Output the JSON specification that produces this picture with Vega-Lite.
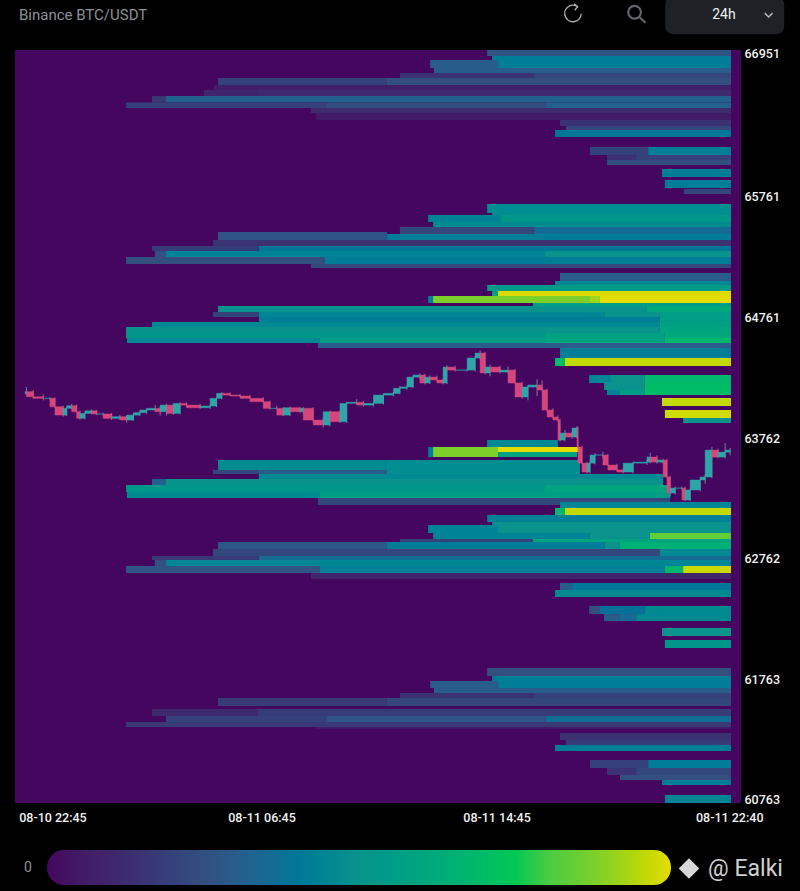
{"$schema":"https://vega.github.io/schema/vega-lite/v6.json","width":726,"height":753,"autosize":"none","padding":{"left":15,"top":50,"right":59,"bottom":88},"background":"#000000","config":{"view":{"stroke":null},"font":"Roboto"},"datasets":{"heat":[
{"t0":-0.39,"t1":24.32,"p0":60738,"p1":66979,"v":0},
{"t0":15.68,"t1":23.98,"p0":66929,"p1":66979,"v":0.27},
{"t0":15.85,"t1":23.98,"p0":66879,"p1":66929,"v":0.42},
{"t0":13.74,"t1":16.05,"p0":66829,"p1":66896,"v":0.3},
{"t0":16.05,"t1":23.98,"p0":66829,"p1":66879,"v":0.42},
{"t0":13.87,"t1":23.98,"p0":66788,"p1":66829,"v":0.3},
{"t0":12.71,"t1":17.28,"p0":66747,"p1":66788,"v":0.15},
{"t0":17.28,"t1":23.98,"p0":66747,"p1":66788,"v":0.22},
{"t0":6.52,"t1":12.27,"p0":66689,"p1":66747,"v":0.2},
{"t0":12.27,"t1":23.98,"p0":66689,"p1":66747,"v":0.25},
{"t0":6.38,"t1":23.98,"p0":66647,"p1":66689,"v":0.07},
{"t0":6.04,"t1":7.88,"p0":66597,"p1":66647,"v":0.1},
{"t0":7.88,"t1":23.98,"p0":66597,"p1":66647,"v":0.12},
{"t0":4.27,"t1":4.75,"p0":66543,"p1":66597,"v":0.17},
{"t0":4.75,"t1":23.98,"p0":66543,"p1":66597,"v":0.32},
{"t0":3.39,"t1":10.23,"p0":66498,"p1":66543,"v":0.2},
{"t0":10.23,"t1":17.68,"p0":66498,"p1":66543,"v":0.25},
{"t0":17.68,"t1":23.98,"p0":66498,"p1":66543,"v":0.32},
{"t0":9.68,"t1":23.98,"p0":66457,"p1":66498,"v":0.13},
{"t0":9.85,"t1":23.98,"p0":66399,"p1":66457,"v":0.06},
{"t0":18.16,"t1":23.98,"p0":66349,"p1":66399,"v":0.15},
{"t0":18.36,"t1":23.98,"p0":66316,"p1":66349,"v":0.22},
{"t0":17.99,"t1":23.98,"p0":66258,"p1":66316,"v":0.4},
{"t0":19.18,"t1":21.16,"p0":66108,"p1":66175,"v":0.2},
{"t0":21.16,"t1":23.98,"p0":66108,"p1":66175,"v":0.42},
{"t0":19.76,"t1":20.75,"p0":66067,"p1":66108,"v":0.15},
{"t0":20.75,"t1":23.98,"p0":66067,"p1":66108,"v":0.2},
{"t0":19.76,"t1":23.98,"p0":66026,"p1":66067,"v":0.25},
{"t0":21.63,"t1":23.98,"p0":65926,"p1":65992,"v":0.42},
{"t0":21.73,"t1":23.98,"p0":65835,"p1":65901,"v":0.42},
{"t0":22.38,"t1":23.98,"p0":65785,"p1":65827,"v":0.22},
{"t0":15.68,"t1":23.98,"p0":65628,"p1":65702,"v":0.48},
{"t0":15.85,"t1":23.98,"p0":65611,"p1":65628,"v":0.48},
{"t0":13.67,"t1":16.12,"p0":65553,"p1":65611,"v":0.44},
{"t0":16.12,"t1":23.98,"p0":65553,"p1":65611,"v":0.52},
{"t0":13.84,"t1":23.98,"p0":65512,"p1":65553,"v":0.47},
{"t0":12.71,"t1":17.28,"p0":65454,"p1":65512,"v":0.22},
{"t0":17.28,"t1":23.98,"p0":65454,"p1":65512,"v":0.36},
{"t0":6.52,"t1":12.27,"p0":65404,"p1":65470,"v":0.27},
{"t0":12.27,"t1":23.98,"p0":65404,"p1":65454,"v":0.42},
{"t0":6.35,"t1":23.98,"p0":65354,"p1":65404,"v":0.15},
{"t0":4.27,"t1":7.91,"p0":65313,"p1":65354,"v":0.18},
{"t0":7.91,"t1":23.98,"p0":65313,"p1":65354,"v":0.4},
{"t0":4.37,"t1":4.75,"p0":65263,"p1":65313,"v":0.25},
{"t0":4.75,"t1":17.65,"p0":65263,"p1":65313,"v":0.44},
{"t0":17.65,"t1":23.98,"p0":65263,"p1":65313,"v":0.5},
{"t0":3.39,"t1":10.16,"p0":65205,"p1":65263,"v":0.25},
{"t0":10.16,"t1":23.98,"p0":65205,"p1":65263,"v":0.42},
{"t0":9.68,"t1":23.98,"p0":65172,"p1":65205,"v":0.22},
{"t0":18.16,"t1":23.98,"p0":65064,"p1":65131,"v":0.3},
{"t0":17.99,"t1":23.98,"p0":65031,"p1":65064,"v":0.45},
{"t0":15.68,"t1":23.98,"p0":64981,"p1":65031,"v":0.54},
{"t0":15.85,"t1":16.05,"p0":64940,"p1":64981,"v":0.6},
{"t0":16.05,"t1":23.98,"p0":64940,"p1":64981,"v":0.99},
{"t0":13.67,"t1":13.84,"p0":64882,"p1":64940,"v":0.42},
{"t0":13.84,"t1":19.18,"p0":64882,"p1":64940,"v":0.88},
{"t0":19.18,"t1":19.52,"p0":64882,"p1":64940,"v":0.92},
{"t0":19.52,"t1":23.98,"p0":64882,"p1":64940,"v":1},
{"t0":17.24,"t1":23.98,"p0":64857,"p1":64882,"v":0.55},
{"t0":6.52,"t1":21.12,"p0":64807,"p1":64857,"v":0.5},
{"t0":21.12,"t1":23.98,"p0":64807,"p1":64857,"v":0.62},
{"t0":6.35,"t1":7.91,"p0":64766,"p1":64807,"v":0.2},
{"t0":7.91,"t1":19.69,"p0":64766,"p1":64807,"v":0.45},
{"t0":19.69,"t1":21.56,"p0":64766,"p1":64807,"v":0.5},
{"t0":21.56,"t1":23.98,"p0":64766,"p1":64807,"v":0.56},
{"t0":7.91,"t1":21.56,"p0":64724,"p1":64766,"v":0.42},
{"t0":21.56,"t1":23.98,"p0":64724,"p1":64766,"v":0.56},
{"t0":4.27,"t1":21.56,"p0":64683,"p1":64724,"v":0.46},
{"t0":21.56,"t1":23.98,"p0":64683,"p1":64724,"v":0.58},
{"t0":3.39,"t1":21.56,"p0":64633,"p1":64683,"v":0.5},
{"t0":21.56,"t1":23.98,"p0":64633,"p1":64683,"v":0.6},
{"t0":3.39,"t1":17.65,"p0":64592,"p1":64633,"v":0.52},
{"t0":17.65,"t1":21.73,"p0":64592,"p1":64633,"v":0.58},
{"t0":21.73,"t1":23.98,"p0":64592,"p1":64633,"v":0.62},
{"t0":3.42,"t1":9.99,"p0":64550,"p1":64592,"v":0.46},
{"t0":9.99,"t1":17.65,"p0":64550,"p1":64592,"v":0.56},
{"t0":17.65,"t1":21.73,"p0":64550,"p1":64592,"v":0.6},
{"t0":21.73,"t1":23.98,"p0":64550,"p1":64592,"v":0.68},
{"t0":9.92,"t1":23.98,"p0":64509,"p1":64550,"v":0.3},
{"t0":18.16,"t1":23.98,"p0":64426,"p1":64509,"v":0.42},
{"t0":17.99,"t1":18.33,"p0":64360,"p1":64426,"v":0.7},
{"t0":18.33,"t1":23.98,"p0":64360,"p1":64426,"v":0.96},
{"t0":19.15,"t1":19.86,"p0":64219,"p1":64285,"v":0.45},
{"t0":19.86,"t1":21.05,"p0":64219,"p1":64285,"v":0.5},
{"t0":21.05,"t1":23.98,"p0":64219,"p1":64285,"v":0.68},
{"t0":19.66,"t1":21.05,"p0":64161,"p1":64219,"v":0.5},
{"t0":21.05,"t1":23.98,"p0":64161,"p1":64219,"v":0.7},
{"t0":19.76,"t1":20.2,"p0":64119,"p1":64161,"v":0.45},
{"t0":20.2,"t1":21.05,"p0":64119,"p1":64161,"v":0.55},
{"t0":21.05,"t1":23.98,"p0":64119,"p1":64161,"v":0.7},
{"t0":21.63,"t1":23.98,"p0":64028,"p1":64094,"v":0.96},
{"t0":21.73,"t1":23.98,"p0":63929,"p1":63995,"v":0.98},
{"t0":22.35,"t1":23.98,"p0":63887,"p1":63929,"v":0.5},
{"t0":15.68,"t1":18.09,"p0":63688,"p1":63746,"v":0.46},
{"t0":13.67,"t1":13.84,"p0":63605,"p1":63688,"v":0.42},
{"t0":13.84,"t1":16.05,"p0":63605,"p1":63688,"v":0.88},
{"t0":16.05,"t1":18.84,"p0":63647,"p1":63688,"v":1},
{"t0":16.05,"t1":18.74,"p0":63605,"p1":63647,"v":0.6},
{"t0":6.52,"t1":12.27,"p0":63498,"p1":63580,"v":0.47},
{"t0":12.27,"t1":18.84,"p0":63465,"p1":63580,"v":0.48},
{"t0":6.35,"t1":7.91,"p0":63465,"p1":63498,"v":0.22},
{"t0":7.91,"t1":12.27,"p0":63465,"p1":63498,"v":0.3},
{"t0":7.91,"t1":21.67,"p0":63423,"p1":63465,"v":0.46},
{"t0":4.27,"t1":4.75,"p0":63373,"p1":63423,"v":0.32},
{"t0":4.75,"t1":21.67,"p0":63373,"p1":63423,"v":0.5},
{"t0":3.39,"t1":17.65,"p0":63315,"p1":63373,"v":0.52},
{"t0":17.65,"t1":21.84,"p0":63315,"p1":63373,"v":0.6},
{"t0":3.42,"t1":9.99,"p0":63266,"p1":63315,"v":0.47},
{"t0":9.99,"t1":21.91,"p0":63266,"p1":63315,"v":0.56},
{"t0":9.92,"t1":21.91,"p0":63208,"p1":63266,"v":0.22},
{"t0":18.16,"t1":23.98,"p0":63183,"p1":63233,"v":0.45},
{"t0":17.99,"t1":18.33,"p0":63125,"p1":63183,"v":0.68},
{"t0":18.33,"t1":23.98,"p0":63125,"p1":63183,"v":0.96},
{"t0":15.68,"t1":23.98,"p0":63067,"p1":63125,"v":0.43},
{"t0":15.85,"t1":23.98,"p0":63042,"p1":63067,"v":0.5},
{"t0":13.67,"t1":16.05,"p0":62976,"p1":63042,"v":0.44},
{"t0":16.05,"t1":23.98,"p0":62976,"p1":63042,"v":0.5},
{"t0":13.84,"t1":19.18,"p0":62926,"p1":62976,"v":0.44},
{"t0":19.18,"t1":21.22,"p0":62926,"p1":62976,"v":0.5},
{"t0":21.22,"t1":23.98,"p0":62926,"p1":62976,"v":0.84},
{"t0":12.71,"t1":17.24,"p0":62901,"p1":62926,"v":0.2},
{"t0":17.24,"t1":23.98,"p0":62901,"p1":62926,"v":0.6},
{"t0":6.52,"t1":12.27,"p0":62843,"p1":62901,"v":0.28},
{"t0":12.27,"t1":19.69,"p0":62843,"p1":62901,"v":0.42},
{"t0":19.69,"t1":20.2,"p0":62843,"p1":62901,"v":0.5},
{"t0":20.2,"t1":23.98,"p0":62843,"p1":62901,"v":0.65},
{"t0":6.35,"t1":21.56,"p0":62785,"p1":62843,"v":0.22},
{"t0":21.56,"t1":23.98,"p0":62785,"p1":62843,"v":0.46},
{"t0":4.27,"t1":7.91,"p0":62752,"p1":62785,"v":0.17},
{"t0":7.91,"t1":23.98,"p0":62752,"p1":62785,"v":0.36},
{"t0":4.37,"t1":4.75,"p0":62702,"p1":62752,"v":0.25},
{"t0":4.75,"t1":23.98,"p0":62702,"p1":62752,"v":0.45},
{"t0":3.39,"t1":9.99,"p0":62644,"p1":62702,"v":0.27},
{"t0":9.99,"t1":21.73,"p0":62644,"p1":62702,"v":0.43},
{"t0":21.73,"t1":22.35,"p0":62644,"p1":62702,"v":0.68},
{"t0":22.35,"t1":23.98,"p0":62644,"p1":62702,"v":0.97},
{"t0":9.68,"t1":23.98,"p0":62594,"p1":62644,"v":0.1},
{"t0":18.16,"t1":18.57,"p0":62503,"p1":62561,"v":0.3},
{"t0":18.57,"t1":23.98,"p0":62503,"p1":62561,"v":0.4},
{"t0":17.99,"t1":23.98,"p0":62445,"p1":62503,"v":0.46},
{"t0":19.15,"t1":19.52,"p0":62304,"p1":62371,"v":0.25},
{"t0":19.52,"t1":21.05,"p0":62304,"p1":62371,"v":0.38},
{"t0":21.05,"t1":23.98,"p0":62304,"p1":62371,"v":0.47},
{"t0":19.66,"t1":20.2,"p0":62246,"p1":62304,"v":0.3},
{"t0":20.2,"t1":20.75,"p0":62246,"p1":62304,"v":0.35},
{"t0":20.75,"t1":23.98,"p0":62246,"p1":62304,"v":0.46},
{"t0":21.63,"t1":23.98,"p0":62122,"p1":62188,"v":0.5},
{"t0":21.73,"t1":23.98,"p0":62022,"p1":62089,"v":0.52},
{"t0":15.68,"t1":23.98,"p0":61790,"p1":61857,"v":0.25},
{"t0":15.85,"t1":23.98,"p0":61749,"p1":61790,"v":0.42},
{"t0":13.74,"t1":16.05,"p0":61691,"p1":61749,"v":0.3},
{"t0":16.05,"t1":23.98,"p0":61691,"p1":61749,"v":0.42},
{"t0":13.87,"t1":23.98,"p0":61650,"p1":61691,"v":0.3},
{"t0":12.71,"t1":17.28,"p0":61608,"p1":61650,"v":0.15},
{"t0":17.28,"t1":23.98,"p0":61608,"p1":61650,"v":0.2},
{"t0":6.52,"t1":12.27,"p0":61542,"p1":61608,"v":0.18},
{"t0":12.27,"t1":23.98,"p0":61542,"p1":61608,"v":0.22},
{"t0":4.27,"t1":7.88,"p0":61459,"p1":61517,"v":0.12},
{"t0":7.88,"t1":23.98,"p0":61459,"p1":61517,"v":0.18},
{"t0":4.75,"t1":10.23,"p0":61409,"p1":61459,"v":0.2},
{"t0":10.23,"t1":17.68,"p0":61409,"p1":61459,"v":0.27},
{"t0":17.68,"t1":23.98,"p0":61409,"p1":61459,"v":0.37},
{"t0":3.39,"t1":23.98,"p0":61368,"p1":61409,"v":0.17},
{"t0":9.85,"t1":23.98,"p0":61351,"p1":61368,"v":0.05},
{"t0":18.16,"t1":23.98,"p0":61260,"p1":61318,"v":0.15},
{"t0":18.36,"t1":23.98,"p0":61219,"p1":61260,"v":0.18},
{"t0":17.99,"t1":23.98,"p0":61169,"p1":61219,"v":0.42},
{"t0":19.18,"t1":21.16,"p0":61028,"p1":61094,"v":0.2},
{"t0":21.16,"t1":23.98,"p0":61028,"p1":61094,"v":0.42},
{"t0":19.76,"t1":20.75,"p0":60970,"p1":61028,"v":0.15},
{"t0":20.75,"t1":23.98,"p0":60970,"p1":61028,"v":0.22},
{"t0":20.2,"t1":23.98,"p0":60929,"p1":60970,"v":0.25},
{"t0":21.63,"t1":23.98,"p0":60887,"p1":60929,"v":0.42},
{"t0":21.73,"t1":23.98,"p0":60738,"p1":60804,"v":0.44}
],"candles":[
{"t0":-0.05,"t1":0,"o":64130,"c":64147,"h":64185,"l":64120},
{"t0":0,"t1":0.23,"o":64147,"c":64105,"h":64160,"l":64090},
{"t0":0.23,"t1":0.57,"o":64105,"c":64092,"h":64125,"l":64075},
{"t0":0.57,"t1":0.8,"o":64092,"c":64092,"h":64105,"l":64080},
{"t0":0.8,"t1":0.97,"o":64092,"c":64022,"h":64100,"l":64012},
{"t0":0.97,"t1":1.25,"o":64022,"c":63953,"h":64030,"l":63940},
{"t0":1.25,"t1":1.37,"o":63953,"c":64009,"h":64020,"l":63945},
{"t0":1.37,"t1":1.54,"o":64009,"c":64031,"h":64045,"l":64000},
{"t0":1.54,"t1":1.71,"o":64031,"c":63981,"h":64040,"l":63970},
{"t0":1.71,"t1":1.82,"o":63981,"c":63926,"h":63990,"l":63915},
{"t0":1.82,"t1":1.99,"o":63926,"c":63967,"h":63975,"l":63918},
{"t0":1.99,"t1":2.22,"o":63967,"c":63989,"h":64000,"l":63960},
{"t0":2.22,"t1":2.39,"o":63989,"c":63962,"h":63995,"l":63955},
{"t0":2.39,"t1":2.61,"o":63962,"c":63962,"h":63972,"l":63950},
{"t0":2.61,"t1":2.9,"o":63962,"c":63926,"h":63970,"l":63912},
{"t0":2.9,"t1":3.18,"o":63926,"c":63940,"h":63955,"l":63915},
{"t0":3.18,"t1":3.41,"o":63940,"c":63912,"h":63950,"l":63890},
{"t0":3.41,"t1":3.64,"o":63912,"c":63953,"h":63965,"l":63905},
{"t0":3.64,"t1":3.86,"o":63953,"c":63973,"h":63985,"l":63945},
{"t0":3.86,"t1":4.09,"o":63973,"c":63995,"h":64005,"l":63965},
{"t0":4.09,"t1":4.38,"o":63995,"c":64009,"h":64035,"l":63985},
{"t0":4.38,"t1":4.55,"o":64009,"c":63981,"h":64025,"l":63950},
{"t0":4.55,"t1":4.77,"o":63981,"c":64036,"h":64045,"l":63950},
{"t0":4.77,"t1":5,"o":64036,"c":63967,"h":64045,"l":63955},
{"t0":5,"t1":5.23,"o":63967,"c":64050,"h":64060,"l":63960},
{"t0":5.23,"t1":5.45,"o":64050,"c":64036,"h":64060,"l":64025},
{"t0":5.45,"t1":5.91,"o":64036,"c":64014,"h":64045,"l":64005},
{"t0":5.91,"t1":6.25,"o":64014,"c":64028,"h":64038,"l":64005},
{"t0":6.25,"t1":6.47,"o":64028,"c":64092,"h":64100,"l":64020},
{"t0":6.47,"t1":6.65,"o":64092,"c":64133,"h":64145,"l":64085},
{"t0":6.65,"t1":6.93,"o":64133,"c":64119,"h":64142,"l":64112},
{"t0":6.93,"t1":7.27,"o":64119,"c":64111,"h":64128,"l":64102},
{"t0":7.27,"t1":7.61,"o":64111,"c":64092,"h":64120,"l":64085},
{"t0":7.61,"t1":8.06,"o":64092,"c":64064,"h":64100,"l":64055},
{"t0":8.06,"t1":8.29,"o":64064,"c":64009,"h":64072,"l":64000},
{"t0":8.29,"t1":8.52,"o":64009,"c":64009,"h":64030,"l":64000},
{"t0":8.52,"t1":8.74,"o":64009,"c":63953,"h":64018,"l":63945},
{"t0":8.74,"t1":8.97,"o":63953,"c":64014,"h":64025,"l":63945},
{"t0":8.97,"t1":9.31,"o":64014,"c":63981,"h":64022,"l":63972},
{"t0":9.31,"t1":9.42,"o":63981,"c":64009,"h":64020,"l":63972},
{"t0":9.42,"t1":9.76,"o":64009,"c":63912,"h":64018,"l":63900},
{"t0":9.76,"t1":10.1,"o":63912,"c":63871,"h":63935,"l":63850},
{"t0":10.1,"t1":10.33,"o":63871,"c":63981,"h":63990,"l":63860},
{"t0":10.33,"t1":10.67,"o":63981,"c":63898,"h":63990,"l":63888},
{"t0":10.67,"t1":10.9,"o":63898,"c":64050,"h":64062,"l":63888},
{"t0":10.9,"t1":11.24,"o":64050,"c":64059,"h":64085,"l":64040},
{"t0":11.24,"t1":11.47,"o":64059,"c":64036,"h":64070,"l":64025},
{"t0":11.47,"t1":11.81,"o":64036,"c":64050,"h":64062,"l":64025},
{"t0":11.81,"t1":12.15,"o":64050,"c":64119,"h":64130,"l":64040},
{"t0":12.15,"t1":12.49,"o":64119,"c":64133,"h":64145,"l":64110},
{"t0":12.49,"t1":12.71,"o":64133,"c":64175,"h":64195,"l":64125},
{"t0":12.71,"t1":12.95,"o":64175,"c":64186,"h":64200,"l":64165},
{"t0":12.95,"t1":13.16,"o":64186,"c":64268,"h":64280,"l":64178},
{"t0":13.16,"t1":13.39,"o":64268,"c":64285,"h":64300,"l":64255},
{"t0":13.39,"t1":13.56,"o":64285,"c":64219,"h":64295,"l":64208},
{"t0":13.56,"t1":13.73,"o":64219,"c":64268,"h":64282,"l":64210},
{"t0":13.73,"t1":13.97,"o":64268,"c":64244,"h":64280,"l":64232},
{"t0":13.97,"t1":14.18,"o":64244,"c":64219,"h":64255,"l":64208},
{"t0":14.18,"t1":14.31,"o":64219,"c":64351,"h":64365,"l":64210},
{"t0":14.31,"t1":14.59,"o":64351,"c":64326,"h":64362,"l":64315},
{"t0":14.59,"t1":15,"o":64326,"c":64326,"h":64336,"l":64316},
{"t0":15,"t1":15.27,"o":64326,"c":64426,"h":64440,"l":64316},
{"t0":15.27,"t1":15.44,"o":64426,"c":64467,"h":64490,"l":64415},
{"t0":15.44,"t1":15.61,"o":64467,"c":64302,"h":64478,"l":64290},
{"t0":15.61,"t1":15.78,"o":64302,"c":64351,"h":64372,"l":64275},
{"t0":15.78,"t1":16.12,"o":64351,"c":64310,"h":64362,"l":64298},
{"t0":16.12,"t1":16.39,"o":64310,"c":64326,"h":64355,"l":64300},
{"t0":16.39,"t1":16.63,"o":64326,"c":64219,"h":64336,"l":64208},
{"t0":16.63,"t1":16.87,"o":64219,"c":64103,"h":64230,"l":64090},
{"t0":16.87,"t1":17.07,"o":64103,"c":64186,"h":64200,"l":64075},
{"t0":17.07,"t1":17.38,"o":64186,"c":64202,"h":64250,"l":64110},
{"t0":17.38,"t1":17.55,"o":64202,"c":64161,"h":64240,"l":64150},
{"t0":17.55,"t1":17.72,"o":64161,"c":63995,"h":64172,"l":63985},
{"t0":17.72,"t1":17.92,"o":63995,"c":63937,"h":64010,"l":63925},
{"t0":17.92,"t1":18.09,"o":63937,"c":63912,"h":63950,"l":63900},
{"t0":18.09,"t1":18.16,"o":63912,"c":63746,"h":63925,"l":63735},
{"t0":18.16,"t1":18.33,"o":63746,"c":63804,"h":63830,"l":63735},
{"t0":18.33,"t1":18.57,"o":63804,"c":63771,"h":63815,"l":63758},
{"t0":18.57,"t1":18.74,"o":63771,"c":63846,"h":63862,"l":63760},
{"t0":18.74,"t1":18.77,"o":63846,"c":63688,"h":63856,"l":63678},
{"t0":18.77,"t1":18.91,"o":63688,"c":63555,"h":63698,"l":63545},
{"t0":18.91,"t1":19.08,"o":63555,"c":63481,"h":63565,"l":63470},
{"t0":19.08,"t1":19.18,"o":63481,"c":63555,"h":63568,"l":63470},
{"t0":19.18,"t1":19.35,"o":63555,"c":63622,"h":63638,"l":63545},
{"t0":19.35,"t1":19.62,"o":63622,"c":63622,"h":63650,"l":63595},
{"t0":19.62,"t1":19.79,"o":63622,"c":63539,"h":63632,"l":63528},
{"t0":19.79,"t1":20.1,"o":63539,"c":63498,"h":63550,"l":63488},
{"t0":20.1,"t1":20.31,"o":63498,"c":63481,"h":63510,"l":63470},
{"t0":20.31,"t1":20.65,"o":63481,"c":63555,"h":63566,"l":63470},
{"t0":20.65,"t1":21.12,"o":63555,"c":63563,"h":63580,"l":63540},
{"t0":21.12,"t1":21.23,"o":63563,"c":63605,"h":63640,"l":63552},
{"t0":21.23,"t1":21.46,"o":63605,"c":63563,"h":63620,"l":63550},
{"t0":21.46,"t1":21.67,"o":63563,"c":63580,"h":63592,"l":63552},
{"t0":21.67,"t1":21.8,"o":63580,"c":63440,"h":63590,"l":63430},
{"t0":21.8,"t1":21.91,"o":63440,"c":63307,"h":63450,"l":63280},
{"t0":21.91,"t1":22.08,"o":63307,"c":63348,"h":63360,"l":63295},
{"t0":22.08,"t1":22.31,"o":63348,"c":63348,"h":63362,"l":63335},
{"t0":22.31,"t1":22.42,"o":63348,"c":63249,"h":63358,"l":63240},
{"t0":22.42,"t1":22.59,"o":63249,"c":63332,"h":63345,"l":63240},
{"t0":22.59,"t1":22.93,"o":63332,"c":63415,"h":63428,"l":63322},
{"t0":22.93,"t1":23.1,"o":63415,"c":63440,"h":63462,"l":63385},
{"t0":23.1,"t1":23.33,"o":63440,"c":63663,"h":63690,"l":63430},
{"t0":23.33,"t1":23.54,"o":63663,"c":63605,"h":63675,"l":63595},
{"t0":23.54,"t1":23.78,"o":63605,"c":63646,"h":63722,"l":63595},
{"t0":23.78,"t1":23.95,"o":63646,"c":63663,"h":63680,"l":63620}
]},"layer":[
{"data":{"name":"heat"},"mark":{"type":"rect","strokeWidth":0},"encoding":{
"x":{"field":"t0","type":"quantitative","scale":{"domain":[-0.39,24.32],"nice":false,"zero":false},"axis":{"values":[0,8,16,23.92],"title":null,"domain":false,"grid":false,"ticks":false,"labelColor":"#f2f2f2","labelFont":"Roboto","labelFontSize":12.5,"labelFontWeight":500,"labelPadding":8,"labelOverlap":false,"labelBound":false,"labelFlush":false,"labelExpr":"datum.value==0?'08-10 22:45':datum.value==8?'08-11 06:45':datum.value==16?'08-11 14:45':'08-11 22:40'","encoding":{"labels":{"dx":{"condition":{"test":"datum.value==0","value":26},"value":0}}}}},
"x2":{"field":"t1"},
"y":{"field":"p0","type":"quantitative","scale":{"domain":[60738,66979],"nice":false,"zero":false},"axis":{"orient":"right","values":[66951,65761,64761,63762,62762,61763,60763],"title":null,"domain":false,"grid":false,"ticks":false,"labelColor":"#f2f2f2","labelFont":"Roboto","labelFontSize":12.5,"labelFontWeight":500,"labelPadding":3,"labelOverlap":false,"labelBound":false,"labelFlush":false,"format":"d"}},
"y2":{"field":"p1"},
"color":{"field":"v","type":"quantitative","scale":{"domain":[0,1],"range":["#45065f","#3f2a6e","#334f80","#0d6f96","#0a938c","#05a97a","#00c853","#78cf2c","#e3dc00"]},"legend":{"orient":"none","legendX":32,"legendY":800,"direction":"horizontal","gradientLength":624,"gradientThickness":35,"title":null,"labelOpacity":0,"labelFontSize":1,"tickCount":1,"encoding":{"gradient":{"cornerRadius":{"value":17}}}}}
}},
{"data":{"name":"candles"},"mark":{"type":"rule","strokeWidth":0.7},"encoding":{
"x":{"field":"t1","type":"quantitative"},
"y":{"field":"l","type":"quantitative"},
"y2":{"field":"h"},
"color":{"condition":{"test":"datum.c>=datum.o","value":"#7fb9b5"},"value":"#d98aa0"}
}},
{"data":{"name":"candles"},"mark":{"type":"rect","strokeWidth":0.5,"opacity":0.92},"encoding":{
"x":{"field":"t0","type":"quantitative"},
"x2":{"field":"t1"},
"y":{"field":"o","type":"quantitative"},
"y2":{"field":"c"},
"fill":{"condition":{"test":"datum.c>=datum.o","value":"#2bb3b0"},"value":"#e34c7f"},
"stroke":{"condition":{"test":"datum.c>=datum.o","value":"#2bb3b0"},"value":"#e34c7f"}
}},
{"data":{"values":[{"t0":21.74,"t1":25.79,"p0":67110,"p1":67420}]},"mark":{"type":"rect","fill":"#1e2226","cornerRadius":8},"encoding":{"x":{"field":"t0","type":"quantitative"},"x2":{"field":"t1"},"y":{"field":"p0","type":"quantitative"},"y2":{"field":"p1"}}},
{"data":{"values":[{"t":-0.255,"p":67269,"label":"Binance BTC/USDT"}]},"mark":{"type":"text","align":"left","baseline":"middle","font":"Roboto","fontSize":15,"color":"#8b9096"},"encoding":{"x":{"field":"t","type":"quantitative"},"y":{"field":"p","type":"quantitative"},"text":{"field":"label"}}},
{"data":{"values":[{"t":-0.08,"p":60200,"label":"0"}]},"mark":{"type":"text","align":"left","baseline":"middle","font":"Roboto","fontSize":14,"color":"#8b9096"},"encoding":{"x":{"field":"t","type":"quantitative"},"y":{"field":"p","type":"quantitative"},"text":{"field":"label"}}},
{"data":{"values":[{"t":23.34,"p":67269,"label":"24h"}]},"mark":{"type":"text","align":"left","baseline":"middle","font":"Roboto","fontSize":14,"color":"#f0f0f0"},"encoding":{"x":{"field":"t","type":"quantitative"},"y":{"field":"p","type":"quantitative"},"text":{"field":"label"}}},
{"data":{"values":[{"t":23.2,"p":60195,"label":"@ Ealki"}]},"mark":{"type":"text","align":"left","baseline":"middle","font":"Roboto","fontSize":23,"color":"#d0d0d0"},"encoding":{"x":{"field":"t","type":"quantitative"},"y":{"field":"p","type":"quantitative"},"text":{"field":"label"}}},
{"data":{"values":[{"t":18.6,"p":67280}]},"mark":{"type":"point","shape":"M0.55,-0.8A0.95,0.95,0,1,0,0.95,0M0.15,-1.15L0.55,-0.8L0.2,-0.4","filled":false,"size":300,"stroke":"#f2f2f2","strokeWidth":1.4},"encoding":{"x":{"field":"t","type":"quantitative"},"y":{"field":"p","type":"quantitative"}}},
{"data":{"values":[{"t":20.76,"p":67280}]},"mark":{"type":"point","shape":"M0.5,-0.15A0.7,0.7,0,1,0,-0.9,-0.15A0.7,0.7,0,1,0,0.5,-0.15M0.35,0.4L1,1","filled":false,"size":330,"stroke":"#8b9096","strokeWidth":2.2},"encoding":{"x":{"field":"t","type":"quantitative"},"y":{"field":"p","type":"quantitative"}}},
{"data":{"values":[{"t":25.26,"p":67269}]},"mark":{"type":"point","shape":"M-1,-0.5L0,0.5L1,-0.5","filled":false,"size":60,"stroke":"#f0f0f0","strokeWidth":1.6},"encoding":{"x":{"field":"t","type":"quantitative"},"y":{"field":"p","type":"quantitative"}}},
{"data":{"values":[{"t":22.55,"p":60195}]},"mark":{"type":"point","shape":"diamond","filled":true,"size":420,"color":"#d8d8d8","opacity":1},"encoding":{"x":{"field":"t","type":"quantitative"},"y":{"field":"p","type":"quantitative"}}}
],"resolve":{"scale":{"color":"independent"}}}
